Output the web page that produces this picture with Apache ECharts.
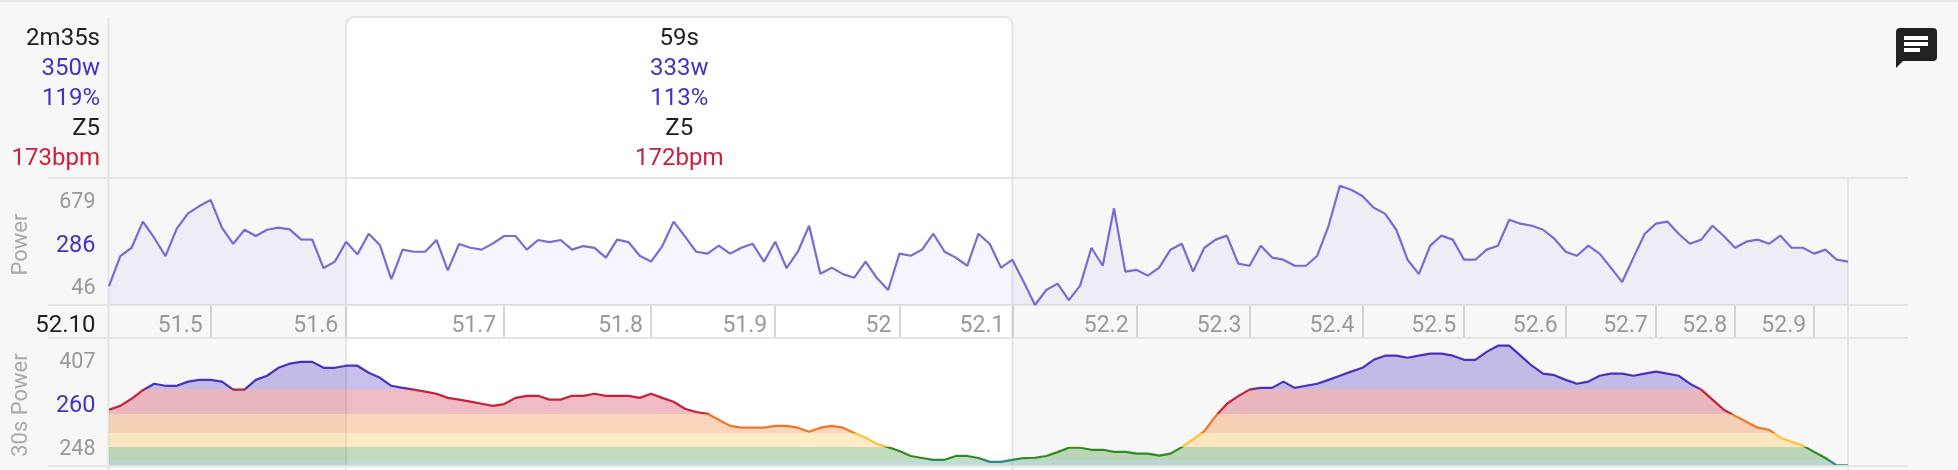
<!DOCTYPE html>
<html><head><meta charset="utf-8">
<script src="https://cdn.jsdelivr.net/npm/echarts@6/dist/echarts.min.js"></script>
<style>html,body{margin:0;padding:0;background:#f7f7f7}#c{width:1958px;height:470px}</style>
</head><body><div id="c"></div>
<script>
// one sample per second
const power = [146,304,348,486,401,304,449,529,568,600,454,369,443,410,443,454,445,392,391,241,275,380,313,422,361,183,338,327,327,389,229,368,348,338,371,410,410,338,389,378,389,338,357,347,296,391,378,306,275,357,486,408,327,317,359,317,348,369,275,380,241,327,464,211,243,209,190,275,188,125,317,306,338,422,327,296,253,422,368,243,285,169,46,125,159,72,148,348,253,556,222,231,201,243,338,369,222,348,391,412,264,253,359,296,285,253,253,306,464,675,654,621,559,528,443,285,209,359,412,391,285,285,338,359,496,475,464,443,396,327,306,359,317,243,167,296,422,475,486,422,369,391,464,410,348,380,391,369,412,348,348,317,338,285,275];
const power30 = [189,202,226,255,277,270,270,284,290,290,284,257,257,290,304,331,345,351,351,331,331,338,338,314,297,270,263,257,250,243,229,223,216,209,202,208,229,236,236,223,223,236,236,243,236,236,236,229,243,229,216,192,181,175,155,134,128,128,128,134,134,128,114,128,134,128,110,94,73,62,49,32,25,19,19,32,32,25,12,12,19,25,26,32,45,60,60,53,53,46,46,40,40,33,40,62,88,116,167,209,235,257,263,263,284,263,270,277,290,304,318,331,358,372,372,365,372,379,379,372,358,358,385,406,406,372,338,311,306,290,277,284,304,311,311,304,311,318,311,304,277,257,223,189,168,148,128,121,94,80,67,46,25,0,0];
const distTicks = [9,21,35,48,59,70,80,91,101,111,120,129,137,144,151];
const distLabels = ['51.5','51.6','51.7','51.8','51.9','52','52.1','52.2','52.3','52.4','52.5','52.6','52.7','52.8','52.9'];
const powerLabelAt = [584,354,130];
const powerLabels = ['679','286','46'];
const power30LabelAt = [347,202,55];
const power30Labels = ['407','260','248'];
const zoneEdges = [0,20,62,110,175,259];
const zoneColors = ['#2a8a7d','#308a23','#ffbf3a','#f17623','#c92039','#4a2fc0'];
const selection = [21,80];
const totals = ['2m35s','350w','119%','Z5','173bpm'];
const selected = ['59s','333w','113%','Z5','172bpm'];
const currentDist = '52.10';

const ink = '#212121', blue = '#4a2fc0', red = '#c8203f', rule = '#e4e4e4', grey = '#999999';
const rowColors = [ink, blue, blue, ink, red];
const rowY = [39, 69, 99, 129, 159];
const font = 'Roboto';
const last = power.length - 1;
const G = {left:109, width:1739};
const rich = {g:{color:grey,fontSize:21.5,fontFamily:font}, b:{color:blue,fontSize:23.5,fontFamily:font}};
const labelFn = (at, names) => v => {
  const i = at.indexOf(v);
  return i < 0 ? '' : (i === 1 ? '{b|' : '{g|') + names[i] + '}';
};
const yBase = {type:'value', splitLine:{show:false}, axisLine:{show:false}, axisTick:{show:false},
  nameLocation:'middle', nameRotate:90, nameGap:77,
  nameTextStyle:{color:'#aaaaaa', fontSize:22, fontFamily:font, padding:[0,6,0,0]}};

const chart = echarts.init(document.getElementById('c'), null, {renderer:'canvas'});
const pieces = zoneColors.map((color,i)=> i<zoneEdges.length-1
  ? {min:zoneEdges[i], max:zoneEdges[i+1], color}
  : {min:zoneEdges[i], color});

chart.setOption({
  animation:false,
  backgroundColor:'#f7f7f7',
  grid:[
    {left:G.left, width:G.width, top:178, height:127},
    {left:G.left, width:G.width, top:338, height:128},
    {left:G.left, width:G.width, top:306, height:32}
  ],
  xAxis:[
    {type:'value', gridIndex:0, min:0, max:last, show:false},
    {type:'value', gridIndex:1, min:0, max:last, show:false},
    {type:'value', gridIndex:2, min:0, max:last, splitLine:{show:false}, axisLine:{show:false},
      axisTick:{show:true, inside:true, length:32, customValues:distTicks, lineStyle:{color:'#c8c8c8', width:1.5}},
      axisLabel:{inside:true, margin:12, align:'right', verticalAlign:'middle', padding:[0,8,0,0],
        color:grey, fontSize:23, fontFamily:font, hideOverlap:false,
        customValues:distTicks, formatter:v=>distLabels[distTicks.indexOf(v)]||''}}
  ],
  yAxis:[
    {...yBase, gridIndex:0, min:46, max:716, name:'Power',
      axisLabel:{margin:13.5, customValues:powerLabelAt, formatter:labelFn(powerLabelAt,powerLabels), rich}},
    {...yBase, gridIndex:1, min:-2, max:432, name:'30s Power',
      axisLabel:{margin:13.5, customValues:power30LabelAt, formatter:labelFn(power30LabelAt,power30Labels), rich}},
    {type:'value', gridIndex:2, show:false, min:0, max:1}
  ],
  visualMap:[{type:'piecewise', show:false, seriesIndex:1, dimension:1, pieces}],
  series:[
    {type:'line', xAxisIndex:0, yAxisIndex:0, symbol:'none', silent:true,
      data:power.map((v,i)=>[i,v]),
      lineStyle:{color:'#7b6ad2', width:2.2}, itemStyle:{color:'#7b6ad2'},
      areaStyle:{color:'#4a2fc0', opacity:0.05}},
    {type:'line', xAxisIndex:1, yAxisIndex:1, symbol:'none', silent:true,
      data:power30.map((v,i)=>[i,v]),
      lineStyle:{width:2.2}, areaStyle:{opacity:0.3}}
  ]
});

const sx = selection.map(i=>chart.convertToPixel({xAxisIndex:0}, i));
const xEnd = chart.convertToPixel({xAxisIndex:0}, last);
const hline = y => ({type:'line', z:1, silent:true, shape:{x1:48,y1:y,x2:1908,y2:y}, style:{stroke:rule,lineWidth:2}});
const vline = (x,y1) => ({type:'line', z:1, silent:true, shape:{x1:x,y1,x2:x,y2:470}, style:{stroke:rule,lineWidth:2}});
const txt = (s,x,y,fill,align,size=24) => ({type:'text', z:10, silent:true, x, y,
  style:{text:s, fill, font:size+'px '+font, textAlign:align, textVerticalAlign:'middle'}});
chart.setOption({graphic:{elements:[
  {type:'rect', z:0, silent:true, shape:{x:0,y:0,width:1958,height:2}, style:{fill:'#e8e8e8'}},
  {type:'rect', z:0, silent:true, shape:{x:sx[0],y:17,width:sx[1]-sx[0],height:470,r:[8,8,0,0]}, style:{fill:'#ffffff',stroke:rule,lineWidth:2}},
  hline(178), hline(305), hline(338), hline(466),
  vline(108.5,18), vline(xEnd,178),
  ...totals.map((s,i)=>txt(s,100,rowY[i],rowColors[i],'right')),
  ...selected.map((s,i)=>txt(s,(sx[0]+sx[1])/2,rowY[i],rowColors[i],'center')),
  txt(currentDist,95.5,325.5,ink,'right'),
  {type:'rect', z:10, silent:true, shape:{x:1896,y:28,width:41,height:33,r:4}, style:{fill:'#212121'}},
  {type:'polygon', z:10, silent:true, shape:{points:[[1896,55],[1896,68],[1904,60]]}, style:{fill:'#212121'}},
  {type:'rect', z:11, silent:true, shape:{x:1904,y:36,width:24,height:4}, style:{fill:'#fff'}},
  {type:'rect', z:11, silent:true, shape:{x:1904,y:42,width:24,height:4}, style:{fill:'#fff'}},
  {type:'rect', z:11, silent:true, shape:{x:1904,y:48,width:16,height:4}, style:{fill:'#fff'}}
]}});
</script></body></html>
